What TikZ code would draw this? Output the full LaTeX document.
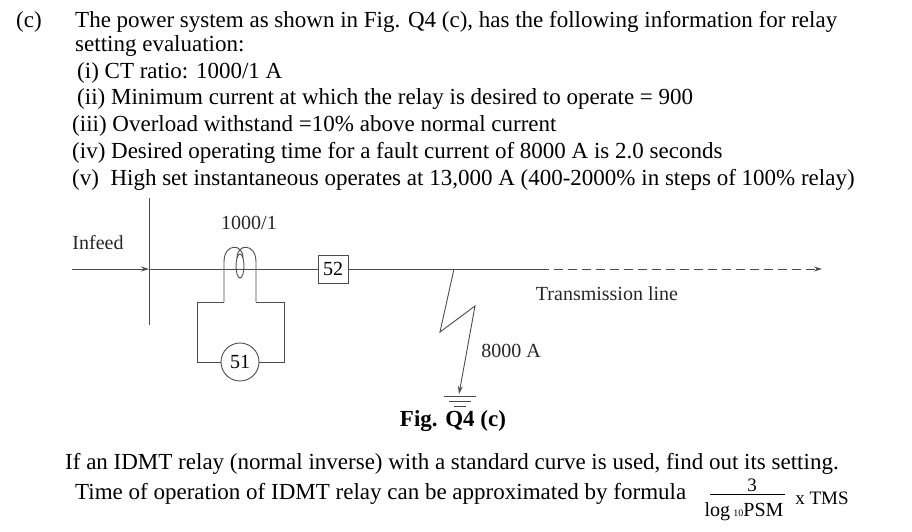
\documentclass[tikz,border=0pt]{standalone}
\usepackage{fontspec}
\setmainfont{Liberation Serif}
\usetikzlibrary{arrows.meta}
\begin{document}
\begin{tikzpicture}[x=1pt,y=-1pt,
  txt/.style={anchor=base west,inner sep=0pt,font=\fontsize{23}{26}\selectfont},
  lbl/.style={inner sep=0pt,font=\fontsize{20}{22}\selectfont,text=black!85},
  wire/.style={draw=black!70,line width=0.9pt}]
\useasboundingbox (0,0) rectangle (912,531);
\node[txt] (c) at (16,27) {(c)};
\node[txt] (t1) at (75,27) {The power system as shown in Fig. Q4 (c), has the following information for relay};
\node[txt] (t2) at (75,51) {setting evaluation:};
\node[txt] (t3) at (77,78) {(i) CT ratio: 1000/1 A};
\node[txt] (t4) at (77,104) {(ii) Minimum current at which the relay is desired to operate = 900};
\node[txt] (t5) at (72,131) {(iii) Overload withstand =10\% above normal current};
\node[txt] (t6) at (72,158) {(iv) Desired operating time for a fault current of 8000 A is 2.0 seconds};
\node[txt] (t7) at (72,185) {(v)\ \ High set instantaneous operates at 13,000 A (400-2000\% in steps of 100\% relay)};
% diagram
\coordinate (bt) at (149,198); \coordinate (bb) at (149,325);
\draw[wire] (bt) -- (bb);
\coordinate (l0) at (72,269); \coordinate (lb) at (149,269);
\coordinate (ld) at (540,269); \coordinate (le) at (822,269);
\draw[wire,-{Stealth[length=8pt,width=5pt]}] (l0) -- (lb);
\node[lbl] (inf) at (98,243) {Infeed};
\node[lbl] (ct) at (249,223) {1000/1};
\node[draw=black!70,line width=0.9pt,minimum width=30pt,minimum height=28pt,inner sep=0pt,font=\fontsize{20}{22}\selectfont,fill=white] (cb) at (333,269) {52};
\draw[wire] (lb) -- (cb.west);
\draw[wire] (cb.east) -- (ld);
\draw[wire,dash pattern=on 9pt off 5pt,-{Stealth[length=8pt,width=5pt]}] (ld) -- (le);
% CT coil
\draw[wire] (224,302) -- (224,262) .. controls (224,243) and (243,243) .. (243,258);
\draw[wire] (240,266) ellipse (4 and 12);
\draw[wire] (237,258) .. controls (237,243) and (256,243) .. (256,262) -- (256,302);
\node[draw=black!70,line width=0.9pt,circle,minimum size=38pt,inner sep=0pt,font=\fontsize{20}{22}\selectfont] (r51) at (240,362) {51};
\draw[wire] (224,302) -- (197,302) -- (197,362) -- (r51.west);
\draw[wire] (256,302) -- (284,302) -- (284,362) -- (r51.east);
% fault
\coordinate (f0) at (454,269); \coordinate (f1) at (440,332);
\coordinate (f2) at (475,306); \coordinate (f3) at (459,394);
\draw[wire,-{Stealth[length=8pt,width=5pt]}] (f0) -- (f1) -- (f2) -- (f3);
\draw[wire] (444,396) -- (476,396) (449,401) -- (471,401) (454,406) -- (466,406);
\node[lbl] (fa) at (511,351) {8000 A};
\node[lbl] (tl) at (607,294) {Transmission line};
\node[inner sep=0pt,font=\fontsize{23}{26}\selectfont\bfseries] (fig) at (453,421) {Fig. Q4 (c)};
\node[txt] (b1) at (65,469) {If an IDMT relay (normal inverse) with a standard curve is used, find out its setting.};
\node[txt] (b2) at (75,499) {Time of operation of IDMT relay can be approximated by formula};
\node[inner sep=0pt,font=\fontsize{19}{22}\selectfont] (num) at (752,485) {3};
\node[inner sep=0pt,font=\fontsize{20}{22}\selectfont] (den) at (744,512) {log\,{\fontsize{10}{11}\selectfont 10}PSM};
\coordinate (fl) at (710,494); \coordinate (fr) at (785,494);
\draw[line width=0.7pt] (fl) -- (fr);
\node[inner sep=0pt,font=\fontsize{19}{22}\selectfont] (tms) at (822,498) {x TMS};
\end{tikzpicture}
\end{document}
